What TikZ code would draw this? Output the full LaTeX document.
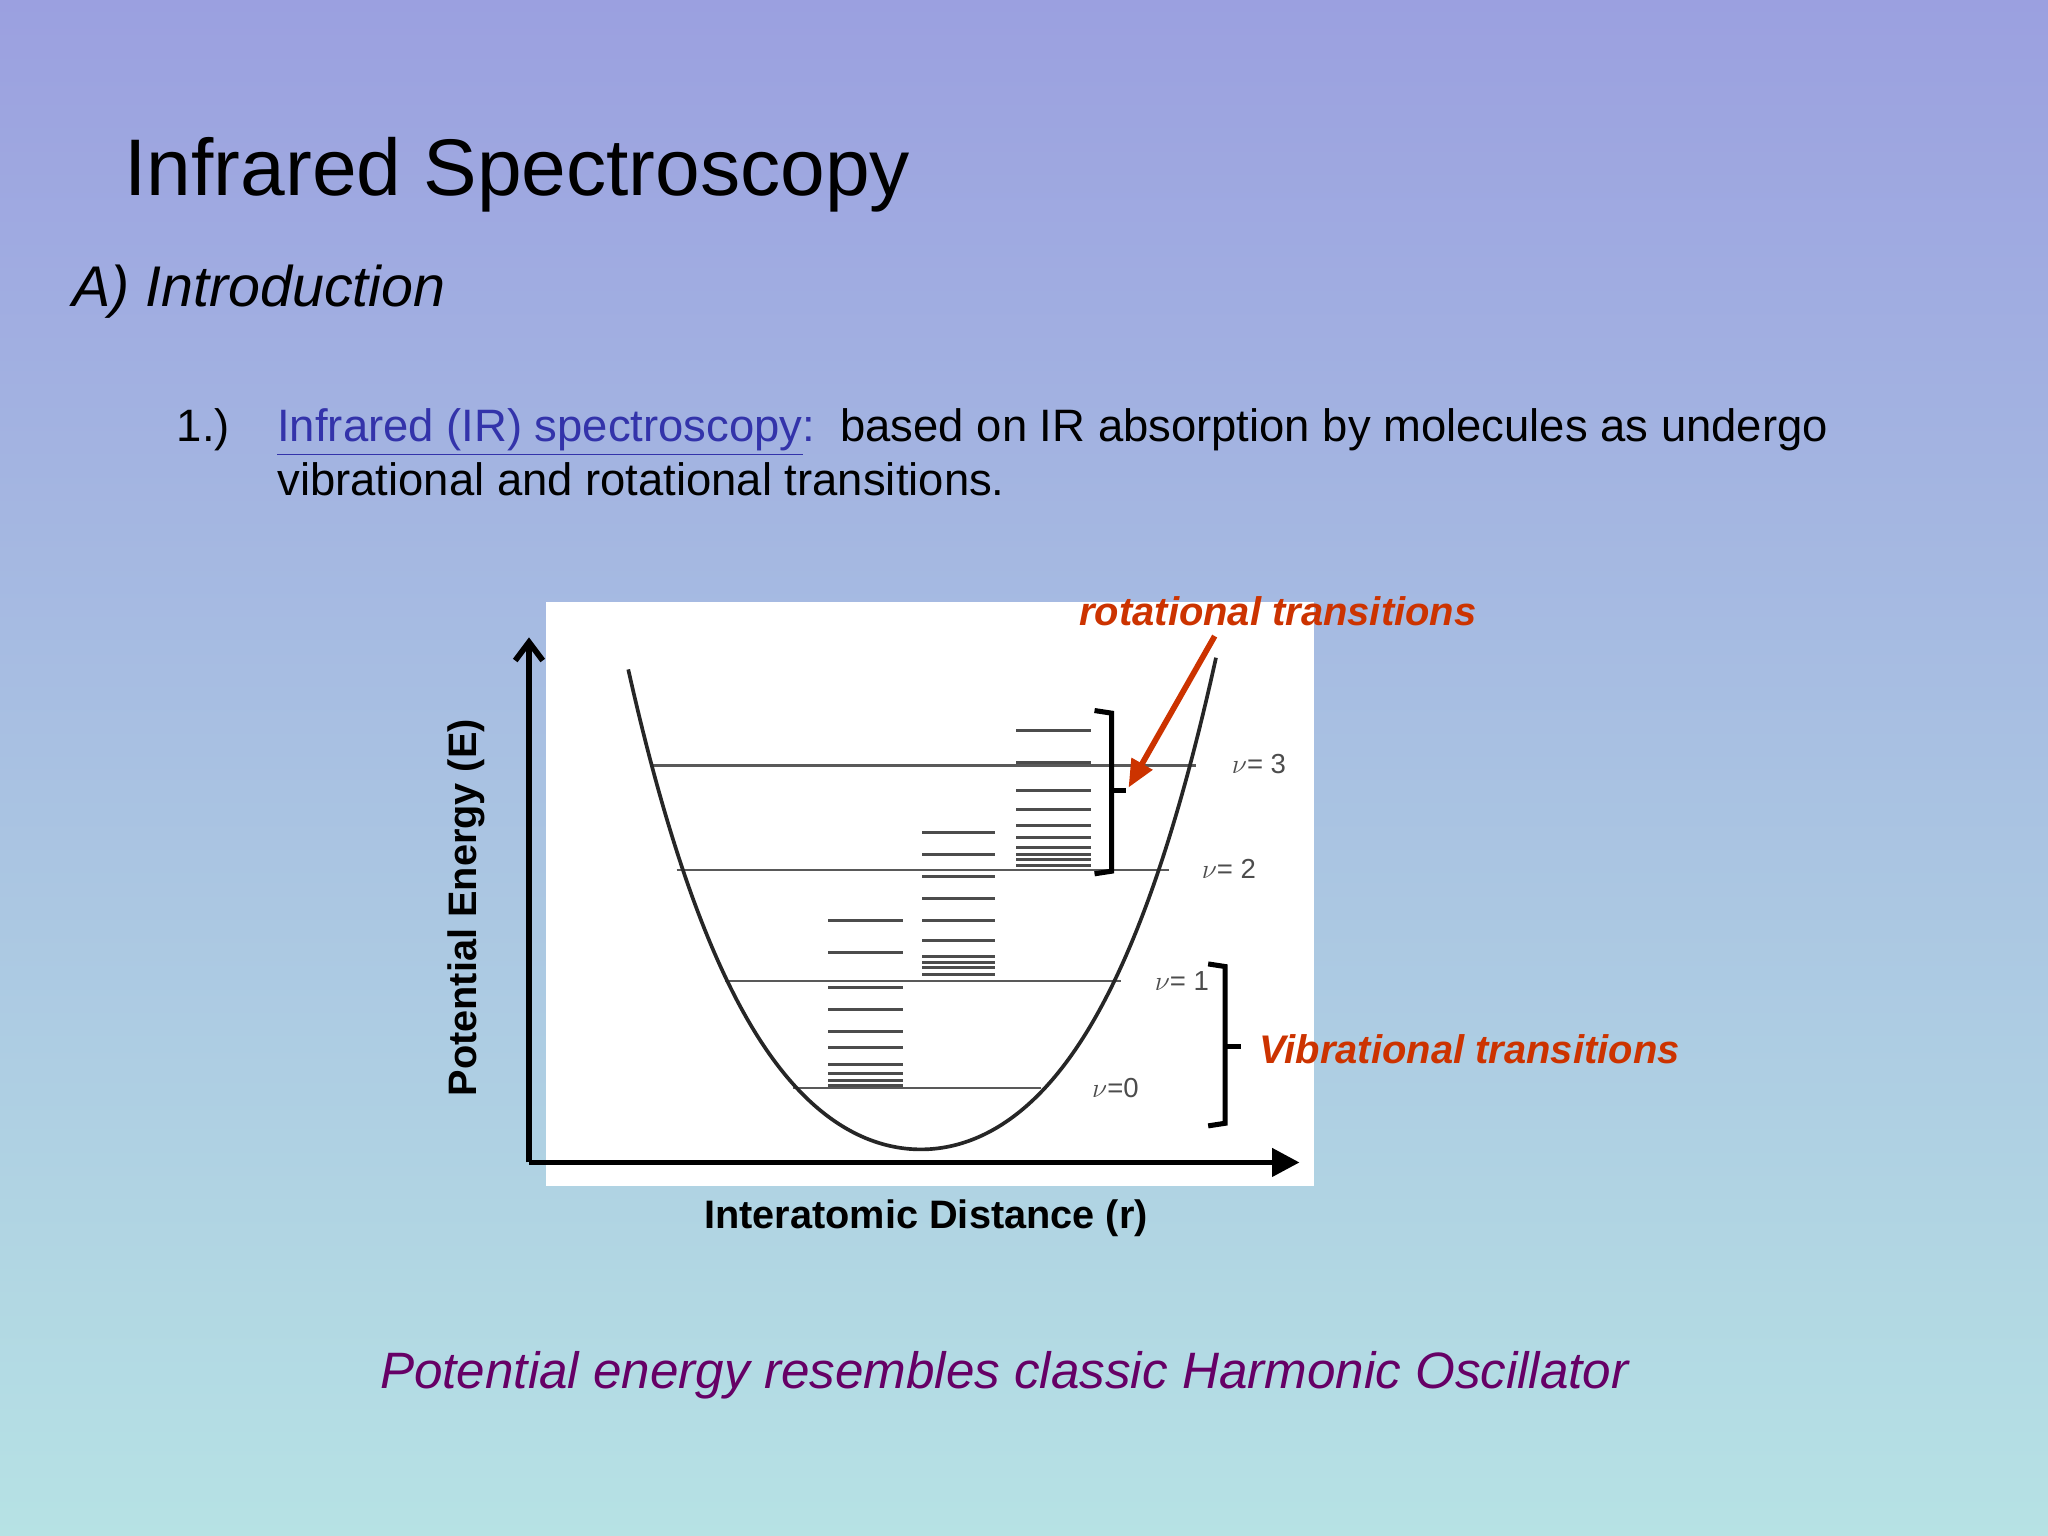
\documentclass[tikz,border=0pt]{standalone}
\usepackage{fontspec}
\setmainfont{Liberation Sans}
\usetikzlibrary{arrows.meta}
\definecolor{bgtop}{RGB}{155,160,224}
\definecolor{bgbot}{RGB}{182,226,228}
\definecolor{lnk}{RGB}{51,51,170}
\definecolor{redl}{RGB}{204,51,0}
\definecolor{purp}{RGB}{102,0,102}
\tikzset{lev/.style={gray!70!black,line width=1.2pt},
 rot/.style={gray!60!black,line width=1.3pt},
 brk/.style={black,line width=2.2pt},
 redlab/.style={text=redl,font=\fontsize{17.4}{20}\selectfont\bfseries\itshape,anchor=west},
 vlab/.style={text=gray!60!black,font=\fontsize{12}{14}\selectfont}}
\begin{document}
\begin{tikzpicture}[x=0.02cm,y=-0.02cm]
\useasboundingbox (0,0) rectangle (1568,1176);
\shade[top color=bgtop,bottom color=bgbot] (0,0) rectangle (1568,1176);
\node[anchor=base west,font=\fontsize{35}{40}\selectfont,inner sep=0pt] (title) at (95,150) {Infrared Spectroscopy};
\node[anchor=base west,font=\fontsize{25}{29}\selectfont\itshape,inner sep=0pt] (sub) at (55,235) {A) Introduction};
\node[anchor=base west,font=\fontsize{19.8}{22}\selectfont,inner sep=0pt] (num) at (135,338) {1.)};
\node[anchor=base west,font=\fontsize{19.8}{22}\selectfont,align=left,inner sep=0pt] (body) at (212,338) {\textcolor{lnk}{\underline{Infrared (IR) spectroscopy}:}\ \ based on IR absorption by molecules as undergo};
\node[anchor=base west,font=\fontsize{19.8}{22}\selectfont,inner sep=0pt] (body2) at (212,379) {vibrational and rotational transitions.};
\fill[white] (418,461) rectangle (1006,908);
% levels
\draw[lev] (499,586) -- (916,586);
\draw[lev] (518,666) -- (895,666);
\draw[lev] (555,751) -- (858,751);
\draw[lev] (607,833) -- (797,833);
\foreach \y in {705,729,756,773,790,802,815,822,827,831} \draw[rot] (634,\y) -- (691,\y);
\foreach \y in {637,654,671,688,705,720,732,737,741,746} \draw[rot] (706,\y) -- (762,\y);
\foreach \y in {559,584,605,620,632,641,649,654,658,663} \draw[rot] (778,\y) -- (835,\y);
\draw[line width=1.6pt,gray!30!black] plot[domain=-224:226,samples=120,smooth] ({705+\x},{880-47.4*(\x/100)^2-5.15*(\x/100)^4});
% axes
\coordinate (o) at (405,890);
\coordinate (ytop) at (405,488);
\coordinate (xend) at (995,890);
\draw[line width=2.5pt,-{Straight Barb[length=8pt,width=12pt]}] (o) -- (ytop);
\draw[line width=2.5pt,-{Triangle[length=12pt,width=12pt]}] (o) -- (xend);
\node[vlab,anchor=west] (v3) at (937,585) {$\nu$= 3};
\node[vlab,anchor=west] (v2) at (914,665) {$\nu$= 2};
\node[vlab,anchor=west] (v1) at (878,751) {$\nu$= 1};
\node[vlab,anchor=west] (v0) at (830,833) {$\nu$=0};
% brackets
\draw[brk] (838,544) -- (851,546) -- (851,667) -- (838,669);
\draw[brk] (851,605) -- (862,605);
\draw[brk] (925,738) -- (938,740) -- (938,860) -- (925,862);
\draw[brk] (938,801) -- (950,801);
\node[redlab,inner sep=0pt] (rotl) at (826,468) {rotational transitions};
\node[redlab,inner sep=0pt] (vibl) at (964,803) {Vibrational transitions};
\coordinate (rs) at (930,487);
\coordinate (re) at (864,603);
\draw[redl,line width=2.5pt,-{Triangle[length=12pt,width=10pt]}] (rs) -- (re);
\node[rotate=90,font=\fontsize{17.3}{20}\selectfont\bfseries] (ylab) at (357,695) {Potential Energy (E)};
\node[font=\fontsize{17.3}{20}\selectfont\bfseries] (xlab) at (709,933) {Interatomic Distance (r)};
\node[text=purp,font=\fontsize{22.3}{26}\selectfont\itshape] (bot) at (769,1053) {Potential energy resembles classic Harmonic Oscillator};
\end{tikzpicture}
\end{document}
